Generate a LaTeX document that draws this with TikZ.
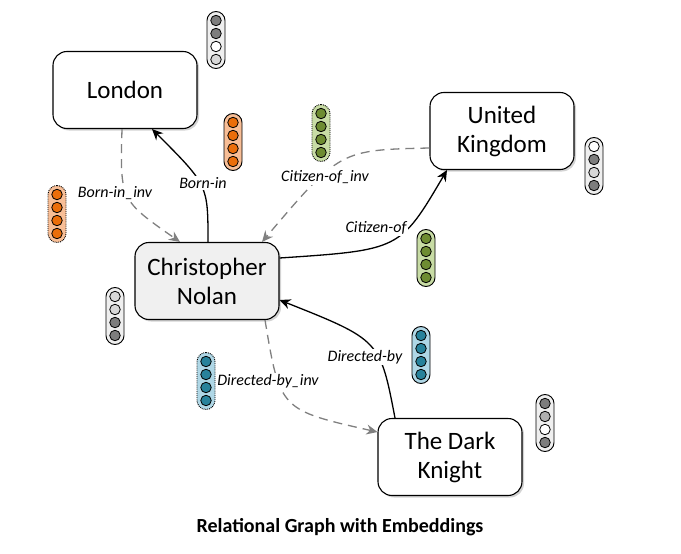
\documentclass[tikz,border=0pt]{standalone}
\usepackage{fontspec}
\setmainfont{Carlito}
\usetikzlibrary{shadows,arrows.meta}
\definecolor{orD}{RGB}{235,110,10}\definecolor{orL}{RGB}{248,190,150}
\definecolor{grD}{RGB}{110,140,50}\definecolor{grL}{RGB}{200,220,165}
\definecolor{blD}{RGB}{40,130,155}\definecolor{blL}{RGB}{175,215,230}
\definecolor{gD}{RGB}{125,125,125}\definecolor{gM}{RGB}{175,175,175}\definecolor{gL}{RGB}{215,215,215}
\newcommand\embv[9]{%
  \node[pill,fill=#4,#5] (#1) at (#2,#3) {};
  \foreach \c [count=\i] in {#6,#7,#8,#9}
    \node[dot,fill=\c] (#1-\i) at (#2,#3-19.5+13*\i-13) {};}
\begin{document}
\begin{tikzpicture}[x=1pt,y=-1pt,
  ent/.style={draw,line width=1.1pt,rounded corners=14pt,fill=white,minimum width=144pt,minimum height=77pt,align=center,font=\fontsize{25}{29}\selectfont,drop shadow={opacity=0.35,shadow xshift=2pt,shadow yshift=-2pt}},
  pill/.style={draw,line width=0.9pt,rounded corners=9pt,minimum width=18pt,minimum height=57pt,inner sep=0pt},
  dot/.style={draw,line width=0.8pt,circle,minimum size=10.5pt,inner sep=0pt},
  rel/.style={draw,line width=1.3pt,-{Stealth[length=11pt,width=10pt]}},
  inv/.style={draw,gray,line width=1.3pt,dash pattern=on 9pt off 6pt,-{Stealth[length=11pt,width=10pt]}},
  lab/.style={fill=white,text=black,inner sep=1.5pt,font=\fontsize{16}{19}\selectfont\itshape}]
\useasboundingbox (0,0) rectangle (681,554);
\node[ent] (lon) at (125,90) {London};
\node[ent] (uk) at (502,131) {United\\Kingdom};
\node[ent,fill={rgb,255:red,240;green,240;blue,240}] (cn) at (207,281) {Christopher\\Nolan};
\node[ent] (dk) at (450,457) {The Dark\\Knight};
\draw[rel] (cn.north -| 208,0) .. controls (208,185) .. (lon.south -| 152,0);
\draw[inv] (lon.south -| 122,0) .. controls (120,200) .. (cn.north -| 180,0);
\draw[inv] (uk.west |- 0,148) .. controls (340,150) .. (cn.north -| 262,0);
\draw[rel] (cn.east |- 0,258) .. controls (400,250) .. (uk.south -| 447,0);
\draw[rel] (dk.north -| 395,0) .. controls (380,340) .. (cn.east |- 0,300);
\draw[inv] (cn.south -| 265,0) .. controls (280,410) .. (dk.west |- 0,432);
\node[lab] (l1) at (203,183) {Born-in};
\node[lab] (l2) at (115,193) {Born-in\_inv};
\node[lab] (l3) at (325,177) {Citizen-of\_inv};
\node[lab] (l4) at (376,228) {Citizen-of};
\node[lab] (l5) at (365,357) {Directed-by};
\node[lab] (l6) at (268,381) {Directed-by\_inv};
\embv{e1}{216}{40}{gL!40}{}{gD}{gD}{white}{gL}
\embv{e2}{233}{142}{orL}{}{orD}{orD}{orD}{orD}
\embv{e3}{57}{214}{orL}{densely dotted}{orD}{orD}{orD}{orD}
\embv{e4}{321}{133}{grL}{densely dotted}{grD}{grD}{grD}{grD}
\embv{e5}{594}{166}{gL!40}{}{white}{gD}{gL}{gD}
\embv{e6}{426}{258}{grL}{}{grD}{grD}{grD}{grD}
\embv{e7}{115}{316}{gL!40}{}{gL}{gL}{gD}{gD}
\embv{e8}{421}{355}{blL}{}{blD}{blD}{blD}{blD}
\embv{e9}{206}{381}{blL}{densely dotted}{blD}{blD}{blD}{blD}
\embv{e10}{545}{423}{gL!40}{}{gD}{gM}{white}{gD}
\node[font=\fontsize{20}{24}\selectfont\bfseries] (title) at (340,527) {Relational Graph with Embeddings};
\end{tikzpicture}
\end{document}
